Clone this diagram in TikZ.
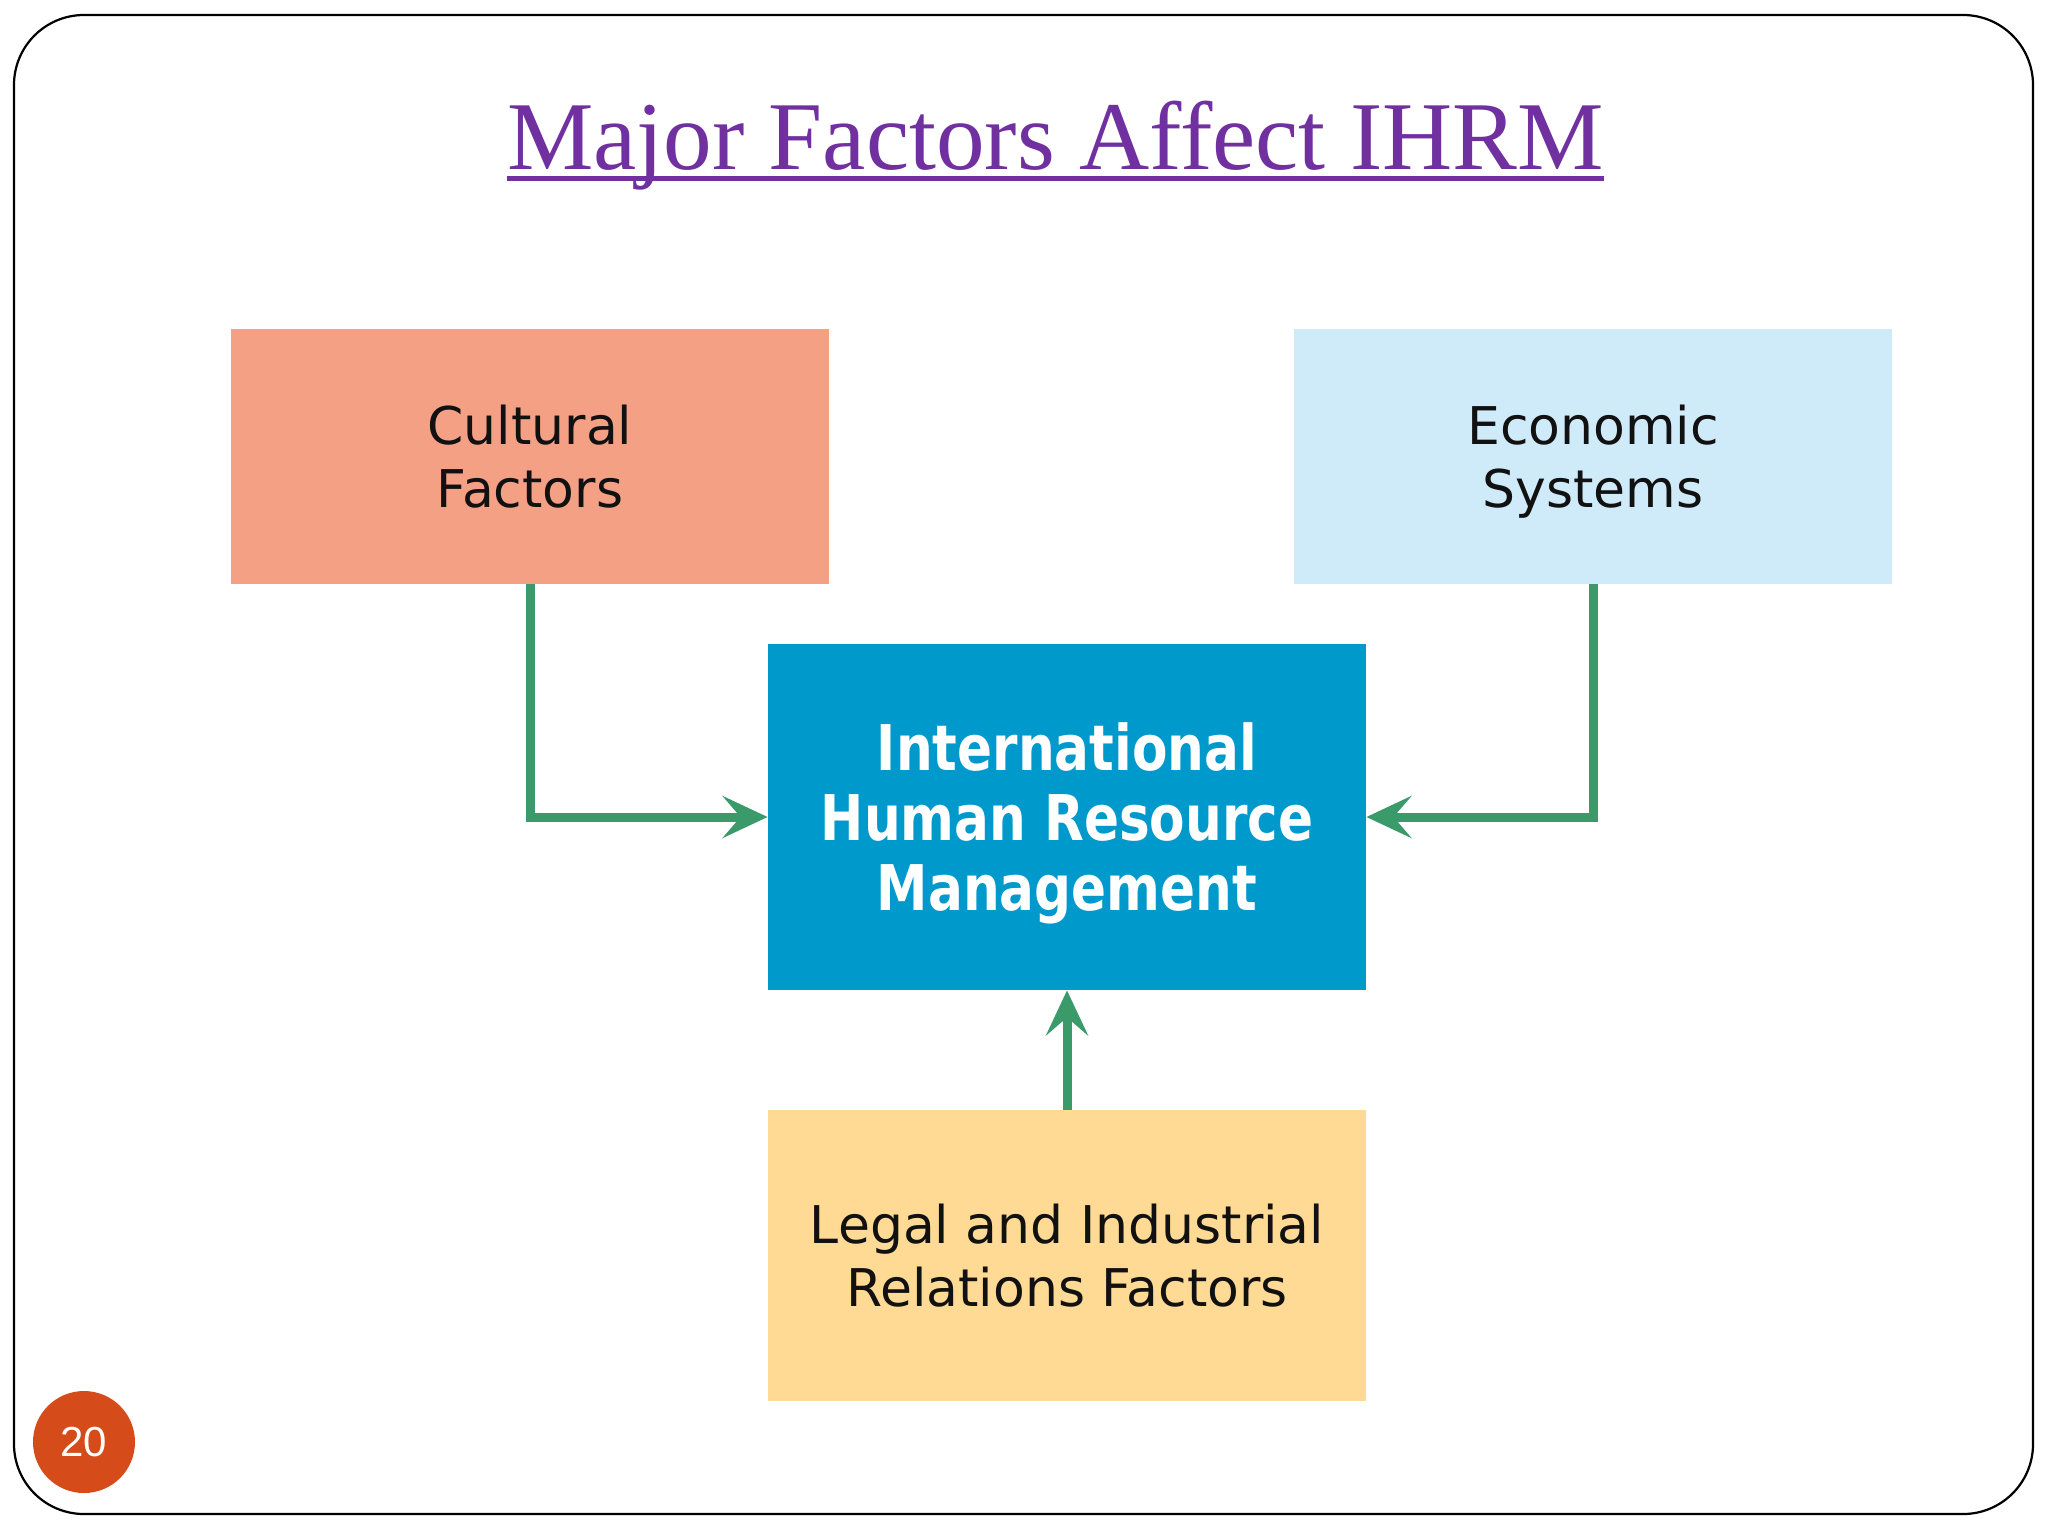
\documentclass[tikz,border=0pt]{standalone}
\usepackage{fontspec}
\setmainfont{Liberation Serif}
\newfontfamily\boxfont{DejaVu Sans}
\newfontfamily\midfont[FakeStretch=0.82]{DejaVu Sans}
\newfontfamily\numfont{Liberation Sans}
\usetikzlibrary{arrows.meta}
\definecolor{titlepurple}{HTML}{7030A0}
\definecolor{cultfill}{HTML}{F4A085}
\definecolor{econfill}{HTML}{CFEBFA}
\definecolor{midfill}{HTML}{0099CC}
\definecolor{legalfill}{HTML}{FFDA95}
\definecolor{conngreen}{HTML}{3A9A6A}
\definecolor{pagered}{HTML}{D54B1A}
\definecolor{boxtext}{HTML}{111111}
\begin{document}
\begin{tikzpicture}[x=0.5pt,y=-0.5pt,
  factorbox/.style={draw=none, inner sep=0pt, align=center, minimum width=299pt,
    text=boxtext, font=\boxfont\fontsize{26}{31.5}\selectfont},
  midbox/.style={draw=none, fill=midfill, inner sep=0pt, align=center, minimum width=299pt,
    minimum height=173pt, text=white, font=\midfont\bfseries\fontsize{31.5}{35}\selectfont},
  conn/.style={draw=conngreen, line width=4.5pt,
    -{Stealth[length=22.5pt, width=21pt, inset=9pt, fill=conngreen]}},
  titlestyle/.style={inner sep=0pt, text=titlepurple, font=\fontsize{48.6}{58}\selectfont},
  pagenum/.style={circle, fill=pagered, minimum size=51pt, inner sep=0pt, text=white,
    font=\numfont\fontsize{21}{21}\selectfont}
]
\useasboundingbox (0,0) rectangle (2048,1536);
\fill[white] (0,0) rectangle (2048,1536);
\draw[line width=1.1pt, rounded corners=35pt] (14,15) rectangle (2033,1514);

\node[titlestyle, anchor=base] (title) at (1055.5,169) {Major Factors Affect IHRM};
\draw[titlepurple, line width=2.5pt] ([yshift=-4.5pt]title.base west) -- ([yshift=-4.5pt]title.base east);

\node[factorbox, fill=cultfill, minimum height=127.5pt] (cult) at (530,456.5) {Cultural\\Factors};
\node[factorbox, fill=econfill, minimum height=127.5pt] (econ) at (1593,456.5) {Economic\\\smash{Systems}};
\node[midbox] (mid) at (1067,817) {International\\Human Resource\\\smash{Management}};
\node[factorbox, fill=legalfill, minimum height=145.5pt] (legal) at (1067,1255.5) {Legal and Industrial\\Relations Factors};

\draw[conn] (cult.south) |- (mid.west);
\draw[conn] (econ.south) |- (mid.east);
\draw[conn] (legal.north) -- (mid.south);

\node[pagenum] (page) at (84,1442) {20};
\end{tikzpicture}
\end{document}
